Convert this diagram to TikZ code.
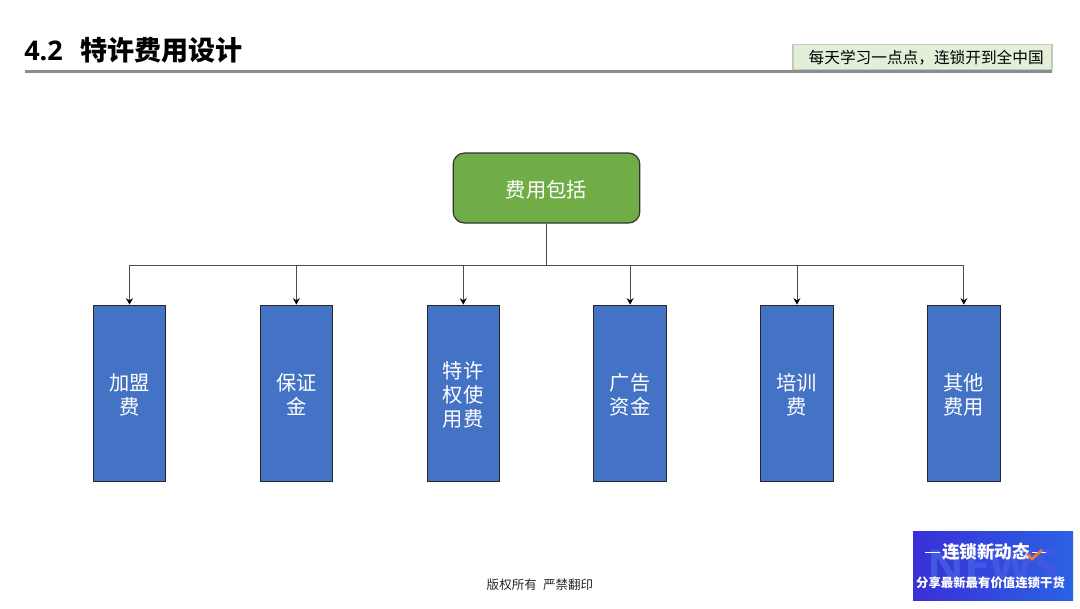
\documentclass[tikz,border=0pt]{standalone}
\usepackage{fontspec}
\setmainfont{Noto Sans CJK SC}
\newfontfamily\latinbold{Open Sans}
\usetikzlibrary{arrows.meta, shapes, positioning}
\definecolor{leafblue}{HTML}{4472C4}
\definecolor{rootgreen}{HTML}{70AD47}
\definecolor{tagfill}{HTML}{E2F0D9}
\definecolor{tagline}{HTML}{C4C8C2}
\definecolor{rulegray}{HTML}{8C8C8C}
\definecolor{badgeleft}{HTML}{3A2FD8}
\definecolor{badgeright}{HTML}{2B62E4}
\definecolor{newsblue}{HTML}{4358E2}
\definecolor{checkorange}{HTML}{F07A30}
\newcommand{\leaftop}{\rule{0pt}{15.5pt}}
\tikzset{
    leaf/.style={rectangle, draw=black!85, line width=0.6pt, fill=leafblue, text=white, minimum width=54.5pt, minimum height=132pt, align=center, font=\fontsize{15.2pt}{18pt}\selectfont},
    root/.style={rectangle, rounded corners=8.5pt, draw=black!80, line width=0.9pt, fill=rootgreen, text=white, minimum width=140pt, minimum height=52.5pt, text height=15.6pt, font=\fontsize{15.2pt}{18pt}\selectfont},
    link/.style={black!70, line width=0.6pt},
}
\begin{document}
\begin{tikzpicture}[x=0.75pt, y=-0.75pt, >={Stealth[length=4.8pt, width=5.2pt, black]}, node distance=125.15pt]
        \useasboundingbox (0,0) rectangle (1080,608);
        % header
        \node[anchor=west, inner sep=0pt, font=\fontsize{20.3pt}{24pt}\selectfont\bfseries] (title) at (24,50) {{\latinbold\bfseries 4.2}\hspace{0.65em}特许费用设计};
        \coordinate (ruleleft) at (25,71.5);
        \coordinate (ruleright) at (1052,71.5);
        \draw[rulegray, line width=2pt] (ruleleft) -- (ruleright);
        \node[rectangle, draw=tagline, line width=0.8pt, fill=tagfill, minimum width=194.25pt, minimum height=19pt, inner sep=0pt] (tag) at (922.5,57) {};
        \node[anchor=east, inner sep=0pt, font=\fontsize{11.75pt}{14pt}\selectfont] (tagtext) at (1044,58) {每天学习一点点，连锁开到全中国};

        % tree
        \node[root] (top) at (546.5,188) {费用包括};
        \node[leaf] (fee) at (129.5,393) {\leaftop 加盟\\费};
        \node[leaf, right of=fee] (deposit) {\leaftop 保证\\金};
        \node[leaf, right of=deposit] (licence) {\leaftop 特许\\权使\\用费};
        \node[leaf, right of=licence] (advert) {\leaftop 广告\\资金};
        \node[leaf, right of=advert] (training) {\leaftop 培训\\费};
        \node[leaf, right of=training] (other) {\leaftop 其他\\费用};
        \coordinate (bus) at (546.5,265);

        \draw[link] (top) -- (bus);
        \draw[link, ->] (bus) -| (fee.north);
        \draw[link, ->] (bus) -| (deposit.north);
        \draw[link, ->] (bus) -| (licence.north);
        \draw[link, ->] (bus) -| (advert.north);
        \draw[link, ->] (bus) -| (training.north);
        \draw[link, ->] (bus) -| (other.north);

        % footer
        \node[inner sep=0pt, font=\fontsize{9.4pt}{12pt}\selectfont, text=black!85] (notice) at (540,585) {版权所有\hspace{0.5em}严禁翻印};

        % badge
        \shade[left color=badgeleft, right color=badgeright] (913,531) rectangle (1073,600);
        \node[inner sep=0pt, text=newsblue, font=\fontsize{34pt}{36pt}\selectfont\latinbold\bfseries] (news) at (993,566) {NEWS};
        \node[inner sep=0pt, text=white, font=\fontsize{13.2pt}{15pt}\selectfont\bfseries] (badgetitle) at (986,552) {连锁新动态};
        \node[inner sep=0pt, text=white, font=\fontsize{9.3pt}{11pt}\selectfont\bfseries] (badgetext) at (990.5,583) {分享最新最有价值连锁干货};
        \draw[white, line width=0.5pt] (925,552.5) -- (940,552.5);
        \draw[white, line width=0.5pt] (1032,552.5) -- (1046,552.5);
        \draw[checkorange, line width=2pt] (1027,554) -- (1032,559) -- (1042,550);
    \end{tikzpicture}
\end{document}
